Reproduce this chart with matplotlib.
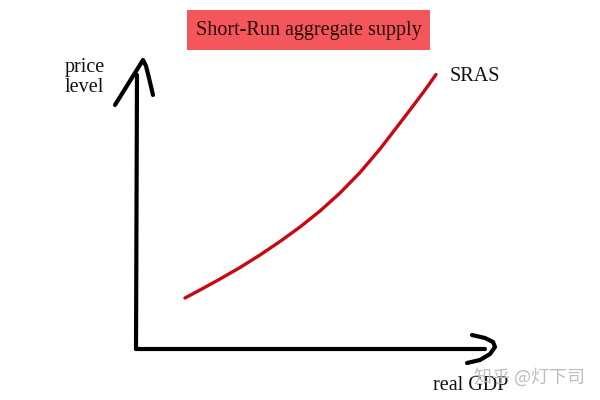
import numpy as np
import matplotlib.pyplot as plt
from matplotlib.patches import Rectangle

# SRAS curve (real GDP, price level)
gdp = [4.9, 6.4, 8.4, 10.4, 12.4, 14.4, 16.4, 18.4, 20.4, 22.4, 24.4, 26.4, 27.7, 28.9, 30.0]
price = [5.1, 5.9, 7.0, 8.15, 9.4, 10.75, 12.2, 13.8, 15.6, 17.65, 20.0, 22.6, 24.3, 25.9, 27.45]

# hand-drawn axes with arrow heads
y_axis_x = [0.0, 0.1]
y_axis_y = [0.0, 27.4]
y_head_x = [-2.1, 0.7, 1.0, 1.3, 1.7]
y_head_y = [24.4, 28.9, 28.3, 27.1, 25.4]
x_axis_x = [0.0, 34.9]
x_axis_y = [0.0, 0.0]
x_head_x = [33.6, 34.9, 35.7, 35.9, 35.4, 34.4, 33.1]
x_head_y = [1.4, 1.1, 0.7, 0.2, -0.5, -1.1, -1.4]

title = "Short-Run aggregate supply"
curve_label = "SRAS"
x_label = "real GDP"
y_label = "price\nlevel"
watermark = "知乎 @灯下司"

serif = ["Liberation Serif", "DejaVu Serif"]

fig = plt.figure(figsize=(6, 4), dpi=100)
ax = fig.add_axes([0, 0, 1, 1])
ax.set_xlim(-13.6, 46.4)
ax.set_ylim(-5.1, 34.9)
ax.axis("off")

axis_kw = dict(color="black", lw=3.0, solid_capstyle="round", solid_joinstyle="round")
ax.plot(y_axis_x, y_axis_y, **axis_kw)
ax.plot(y_head_x, y_head_y, **axis_kw)
ax.plot(x_axis_x, x_axis_y, **axis_kw)
ax.plot(x_head_x, x_head_y, **axis_kw)

ax.plot(gdp, price, color="#C70A10", lw=2.4,
        solid_capstyle="round", solid_joinstyle="round")

# title box
ax.add_patch(Rectangle((5.1, 29.9), 24.3, 4.0, fc="#F3575B", ec="none"))
ax.text(17.25, 31.85, title, ha="center", va="center", fontsize=14.5,
        family=serif, color="#2A0808")

ax.text(31.4, 27.25, curve_label, ha="left", va="center", fontsize=14.5,
        family=serif, color="#111111")
ax.text(-7.1, 29.1, y_label, ha="left", va="top", fontsize=14.5,
        family=serif, color="#111111", linespacing=1.1)
ax.text(29.7, -3.6, x_label, ha="left", va="center", fontsize=14.5,
        family=serif, color="#111111")

ax.text(33.8, -2.8, watermark, ha="left", va="center", fontsize=13,
        family=["Noto Sans CJK SC", "DejaVu Sans"], color="#BDBDBD")

fig.savefig("out.png", dpi=100)
